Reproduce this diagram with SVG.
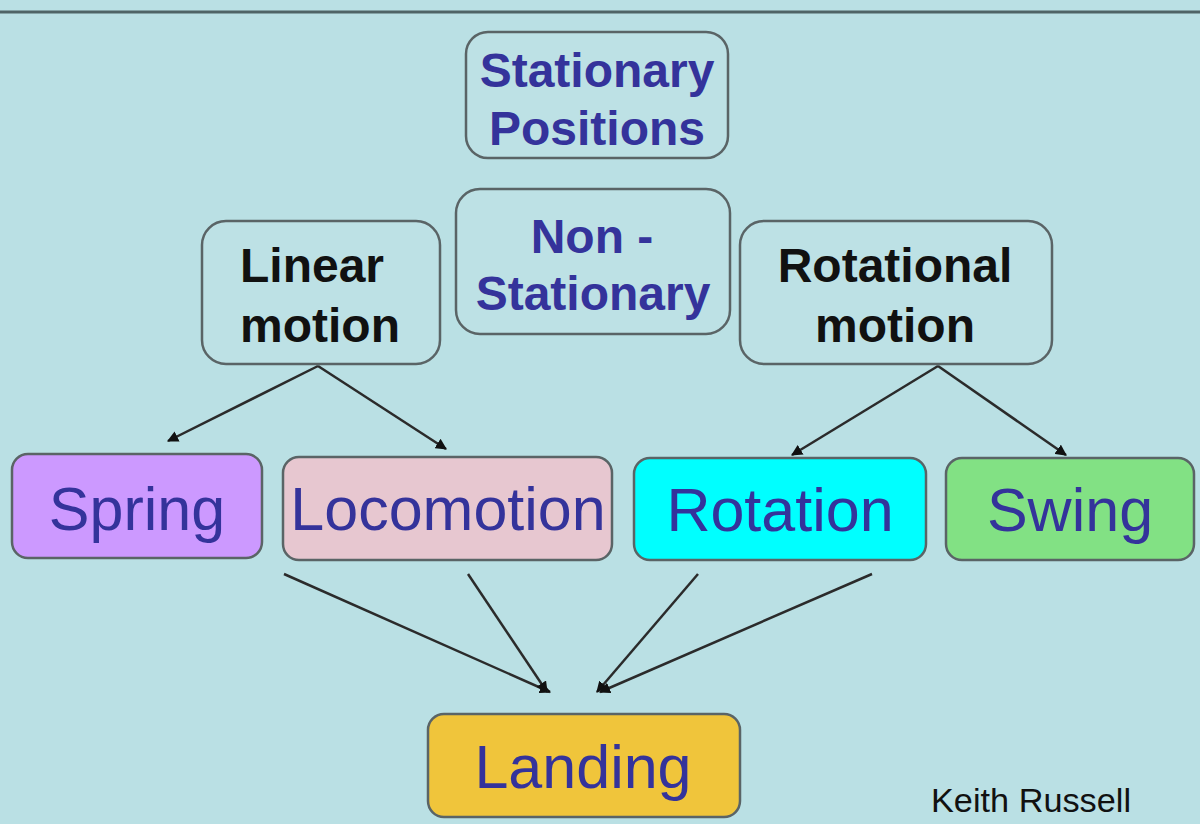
<svg xmlns="http://www.w3.org/2000/svg" width="1200" height="824" viewBox="0 0 1200 824">
<defs>
<marker id="ah" viewBox="0 0 10 10" refX="9" refY="5" markerWidth="4.5" markerHeight="4.5" orient="auto" markerUnits="strokeWidth">
<path d="M0,0 L10,5 L0,10 z" fill="#111"/>
</marker>
</defs>
<style>
.box{stroke:#5a6466;stroke-width:2.5}
.plain{fill:#bde1e5}
.t{font-family:"Liberation Sans",Arial,sans-serif;text-anchor:middle}
.hb{font-size:48px;font-weight:bold}
.blue{fill:#34339b}
.black{fill:#111}
.big{font-size:61px}
.conn line{stroke:#2b2b2b;stroke-width:2.5;marker-end:url(#ah)}
</style>
<rect x="0" y="0" width="1200" height="824" fill="#bae0e4"/>
<line x1="0" y1="12" x2="1200" y2="12" stroke="#4f6466" stroke-width="3"/>

<g id="stationary">
<rect class="box plain" x="466" y="32" width="262" height="126" rx="22"/>
<text class="t hb blue" x="597" y="87">Stationary</text>
<text class="t hb blue" x="597" y="145">Positions</text>
</g>
<g id="nonstationary">
<rect class="box plain" x="456" y="189" width="274" height="145" rx="24"/>
<text class="t hb blue" x="592" y="253">Non -</text>
<text class="t hb blue" x="593" y="310">Stationary</text>
</g>
<g id="linear">
<rect class="box plain" x="202" y="221" width="238" height="143" rx="24"/>
<text class="t hb black" x="312" y="282">Linear</text>
<text class="t hb black" x="320" y="342">motion</text>
</g>
<g id="rotational">
<rect class="box plain" x="740" y="221" width="312" height="143" rx="24"/>
<text class="t hb black" x="895" y="282">Rotational</text>
<text class="t hb black" x="895" y="342">motion</text>
</g>
<g id="spring">
<rect class="box" x="12" y="454" width="250" height="104" rx="16" fill="#cc99ff"/>
<text class="t big blue" x="137" y="530">Spring</text>
</g>
<g id="locomotion">
<rect class="box" x="283" y="457" width="329" height="103" rx="16" fill="#e7c7d0"/>
<text class="t big blue" x="448" y="530">Locomotion</text>
</g>
<g id="rotation">
<rect class="box" x="634" y="458" width="292" height="102" rx="16" fill="#00ffff"/>
<text class="t big blue" x="780" y="531">Rotation</text>
</g>
<g id="swing">
<rect class="box" x="946" y="458" width="248" height="102" rx="16" fill="#82e184"/>
<text class="t big blue" x="1070" y="531">Swing</text>
</g>
<g id="landing">
<rect class="box" x="428" y="714" width="312" height="103" rx="16" fill="#f0c53b"/>
<text class="t big blue" x="583" y="788">Landing</text>
</g>
<g id="credit">
<text class="t black" x="1031" y="812" font-size="33" textLength="200" lengthAdjust="spacingAndGlyphs">Keith Russell</text>
</g>

<g class="conn" id="connectors">
<line x1="318" y1="366" x2="168" y2="441"/>
<line x1="318" y1="366" x2="446" y2="449"/>
<line x1="938" y1="366" x2="792" y2="455"/>
<line x1="938" y1="366" x2="1066" y2="455"/>
<line x1="284" y1="574" x2="550" y2="692"/>
<line x1="468" y1="574" x2="547" y2="692"/>
<line x1="698" y1="574" x2="597" y2="692"/>
<line x1="872" y1="574" x2="600" y2="692"/>
</g>
</svg>
